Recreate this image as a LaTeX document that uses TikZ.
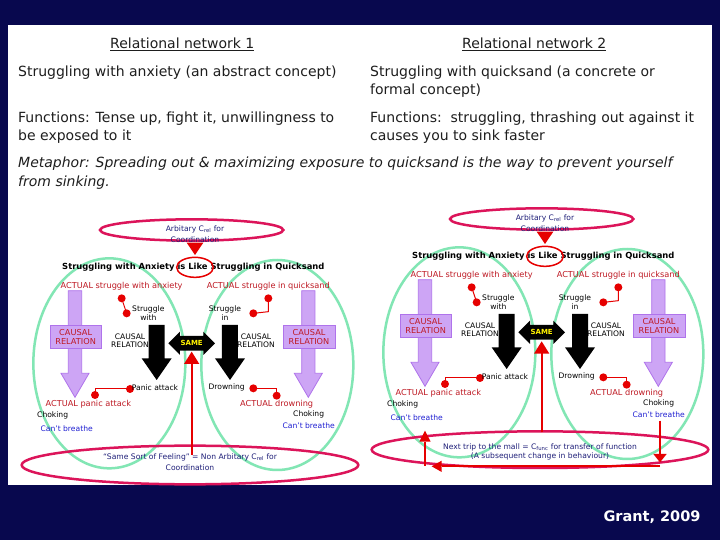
\documentclass[tikz,border=0pt]{standalone}
\usepackage{fontspec}
\setmainfont{DejaVu Sans}
\usetikzlibrary{shapes.geometric}
\definecolor{bgnavy}{RGB}{8,8,78}
\definecolor{txtred}{RGB}{190,25,35}
\definecolor{lnred}{RGB}{230,0,0}
\definecolor{crim}{RGB}{220,20,90}
\definecolor{grn}{RGB}{130,230,180}
\definecolor{purf}{RGB}{205,165,245}
\definecolor{purd}{RGB}{175,115,235}
\definecolor{cblue}{RGB}{30,30,210}
\definecolor{dblue}{RGB}{30,30,120}
\definecolor{hdr}{RGB}{30,30,30}
\tikzset{
 big/.style={font=\fontsize{14}{16}\selectfont, text=hdr, anchor=base west, inner sep=0},
 ptitle/.style={font=\fontsize{8.4}{9}\selectfont\bfseries},
 sm/.style={font=\fontsize{7.6}{8.6}\selectfont, align=center, inner sep=0},
 redt/.style={sm, text=txtred, font=\fontsize{8.2}{9}\selectfont},
 dot/.style={fill=lnred},
 conn/.style={lnred, line width=1pt},
 causal/.style={fill=purf, draw=purd, line width=0.8pt},
}
\newcommand{\drawpanel}[3]{%
\begin{scope}[shift={(#1,#2)}, scale=1/3]
 \draw[grn, line width=2.5pt] (268,460) ellipse [x radius=228, y radius=315];
 \draw[grn, line width=2.5pt] (772,465) ellipse [x radius=228, y radius=315];
 \draw[crim, line width=2.5pt] (515,60) ellipse [x radius=275, y radius=32];
 \node[sm, text=dblue] (arb#3) at (525,58) {Arbitary C\textsubscript{rel} for};
 \node[sm, text=dblue] (coo#3) at (525,90) {Coordination};
 \fill[lnred] (500,98) -- (550,98) -- (525,135) -- cycle;
 \node[ptitle] (tit#3) at (520,172) {Struggling with Anxiety is Like Struggling in Quicksand};
 \draw[lnred, line width=1.5pt] (525,172) ellipse [x radius=55, y radius=30];
 \node[redt] (aL#3) at (305,230) {ACTUAL struggle with anxiety};
 \node[redt] (aR#3) at (745,230) {ACTUAL struggle in quicksand};
 \foreach \cx in {165,865}{
  \fill[causal] (\cx-20,242) -- (\cx+20,242) -- (\cx+20,490) -- (\cx+42,490) -- (\cx,562) -- (\cx-42,490) -- (\cx-20,490) -- cycle;
  \fill[causal] (\cx-75,345) rectangle (\cx+80,415);
  \node[redt] at (\cx+2,380) {CAUSAL\\RELATION};
 }
 \foreach \cx in {410,630}{
  \fill[black] (\cx-24,345) -- (\cx+24,345) -- (\cx+24,445) -- (\cx+45,445) -- (\cx,510) -- (\cx-45,445) -- (\cx-24,445) -- cycle;
 }
 \node[sm] (sw#3) at (385,310) {Struggle\\with};
 \node[sm] (si#3) at (615,310) {Struggle\\in};
 \node[sm] (cl#3) at (330,392) {CAUSAL\\RELATION};
 \node[sm] (cr#3) at (708,392) {CAUSAL\\RELATION};
 \fill[black] (445,400) -- (480,365) -- (480,378) -- (550,378) -- (550,365) -- (585,400) -- (550,435) -- (550,422) -- (480,422) -- (480,435) -- cycle;
 \node[sm, text=yellow, font=\fontsize{7}{7}\selectfont\bfseries] (same#3) at (515,400) {SAME};
 \fill[dot] (305,265) circle (12); \fill[dot] (320,310) circle (12);
 \draw[conn] (305,265) -- (320,310);
 \fill[dot] (745,265) circle (12); \fill[dot] (700,310) circle (12);
 \draw[conn] (745,265) -- (745,305) -- (700,310);
 \fill[dot] (330,537) circle (12); \fill[dot] (225,555) circle (12);
 \draw[conn] (330,537) -- (225,537) -- (225,555);
 \fill[dot] (700,535) circle (12); \fill[dot] (770,557) circle (12);
 \draw[conn] (700,535) -- (770,535) -- (770,557);
 \node[sm] (pa#3) at (405,533) {Panic attack};
 \node[sm] (dr#3) at (620,533) {Drowning};
 \node[redt] (apa#3) at (205,583) {ACTUAL panic attack};
 \node[redt] (adr#3) at (770,583) {ACTUAL drowning};
 \node[sm] (chL#3) at (98,615) {Choking};
 \node[sm, text=cblue] (cbL#3) at (140,655) {Can't breathe};
 \node[sm] (chR#3) at (866,613) {Choking};
 \node[sm, text=cblue] (cbR#3) at (866,646) {Can't breathe};
\end{scope}}
\begin{document}
\begin{tikzpicture}[x=1pt,y=-1pt]
\useasboundingbox (0,0) rectangle (720,540);
\fill[bgnavy] (0,0) rectangle (720,540);
\fill[white] (8,25) rectangle (712,485);
\node[font=\fontsize{14.5}{16}\selectfont\bfseries, text=white] (cite) at (652,517) {Grant, 2009};
\node[big] (h1) at (110,49) {\underline{Relational network 1}};
\node[big] (h2) at (462,49) {\underline{Relational network 2}};
\node[big] (l1) at (18,77) {Struggling with anxiety (an abstract concept)};
\node[big] (r1) at (370,77) {Struggling with quicksand (a concrete or};
\node[big] (r1b) at (370,95) {formal concept)};
\node[big] (l2) at (18,123) {Functions: Tense up, fight it, unwillingness to};
\node[big] (l2b) at (18,141) {be exposed to it};
\node[big] (r2) at (370,123) {Functions:\ \ struggling, thrashing out against it};
\node[big] (r2b) at (370,141) {causes you to sink faster};
\node[big] (m1) at (18,168) {\itshape Metaphor: Spreading out \& maximizing exposure to quicksand is the way to prevent yourself};
\node[big] (m2) at (18,187) {\itshape from sinking.};
\drawpanel{20}{210}{A}
\drawpanel{370}{199}{B}
\begin{scope}[shift={(20,210)}, scale=1/3]
 \draw[crim, line width=2.5pt] (510,765) ellipse [x radius=505, y radius=58];
 \draw[lnred, line width=2pt] (515,735) -- (515,460);
 \fill[lnred] (492,462) -- (538,462) -- (515,425) -- cycle;
 \node[sm, text=dblue] (bA1) at (510,742) {``Same Sort of Feeling'' = Non Arbitary C\textsubscript{rel} for};
 \node[sm, text=dblue] (bA2) at (510,773) {Coordination};
\end{scope}
\begin{scope}[shift={(370,199)}, scale=1/3]
 \draw[crim, line width=2.5pt] (510,752) ellipse [x radius=505, y radius=55];
 \draw[lnred, line width=2pt] (515,700) -- (515,462);
 \fill[lnred] (492,464) -- (538,464) -- (515,427) -- cycle;
 \node[sm, text=dblue] (bB1) at (510,745) {Next trip to the mall = C\textsubscript{func} for transfer of function};
 \node[sm, text=dblue] (bB2) at (510,772) {(A subsequent change in behaviour)};
 \draw[lnred, line width=2pt] (870,665) -- (870,765);
 \fill[lnred] (850,765) -- (890,765) -- (870,790) -- cycle;
 \draw[lnred, line width=2pt] (870,802) -- (215,802);
 \fill[lnred] (215,785) -- (215,819) -- (185,802) -- cycle;
 \draw[lnred, line width=2pt] (165,800) -- (165,728);
 \fill[lnred] (148,728) -- (182,728) -- (165,695) -- cycle;
\end{scope}
\end{tikzpicture}
\end{document}
